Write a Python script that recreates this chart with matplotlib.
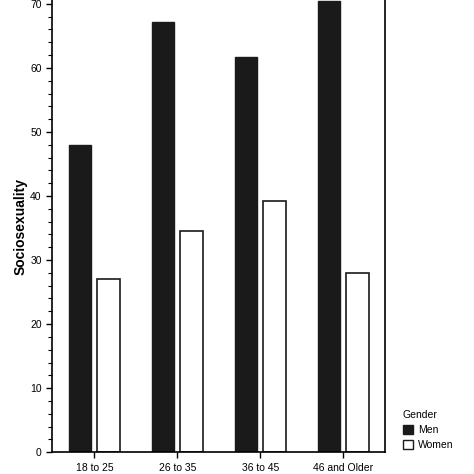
import matplotlib
matplotlib.use("Agg")
from matplotlib import pyplot as plt
from matplotlib.patches import Patch
import numpy as np

plt.rcParams['font.family'] = ['Liberation Sans', 'DejaVu Sans']

age_groups = ["18 to 25", "26 to 35", "36 to 45", "46 and Older"]
men = [48.0, 67.2, 61.7, 70.5]
women = [27.1, 34.6, 39.2, 27.9]

fig = plt.figure(figsize=(4.74, 4.74), dpi=100)
ax = fig.add_axes([0.11, 0.046, 0.702, 0.954])

x = np.arange(len(age_groups))
w = 0.27
ax.bar(x - 0.175, men, w, color="#1a1a1a", edgecolor="#1a1a1a", linewidth=1)
ax.bar(x + 0.17, women, w, color="white", edgecolor="#1a1a1a", linewidth=1.2)

ax.set_xlim(-0.51, 3.5)
ax.set_ylim(0, 70.6)
ax.set_xticks(x)
ax.set_xticklabels(age_groups, fontsize=7.5)
ax.set_yticks(np.arange(0, 71, 10))
ax.set_yticks(np.arange(0, 71, 2), minor=True)
ax.tick_params(axis='y', labelsize=7.5, length=4, width=1)
ax.tick_params(axis='y', which='minor', length=3, width=0.8)
ax.tick_params(axis='x', length=4, width=1)
ax.spines['top'].set_visible(False)
for s in ['left', 'bottom', 'right']:
    ax.spines[s].set_linewidth(1.2)
ax.set_ylabel("Sociosexuality", fontsize=10, fontweight='bold', labelpad=2)

handles = [Patch(facecolor="#1a1a1a", edgecolor="#1a1a1a", label="Men"),
           Patch(facecolor="white", edgecolor="#1a1a1a", label="Women")]
fig.legend(handles=handles, title="Gender", loc="lower left",
           bbox_to_anchor=(0.83, 0.03), frameon=False, fontsize=7.5,
           title_fontsize=7.5, handlelength=1.0, handleheight=1.0,
           handletextpad=0.5, alignment='left')

fig.savefig("out.png", dpi=100)
